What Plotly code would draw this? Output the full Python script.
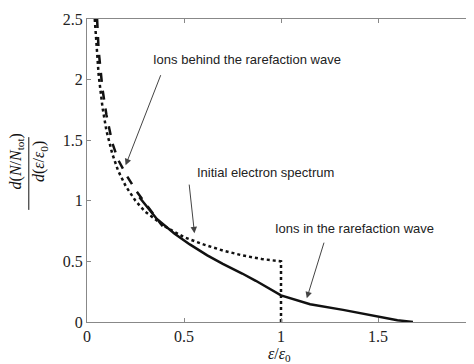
import plotly.graph_objects as go

# Initial electron spectrum (dotted)
elec_x = [0.04, 0.05, 0.06, 0.08, 0.10, 0.13, 0.16, 0.20, 0.25, 0.30, 0.40, 0.50, 0.60, 0.70, 0.80, 0.90, 1.00, 1.00]
elec_y = [2.50, 2.24, 2.04, 1.77, 1.58, 1.39, 1.25, 1.12, 1.00, 0.91, 0.79, 0.70, 0.64, 0.59, 0.55, 0.52, 0.50, 0.00]

# Ions behind the rarefaction wave (dashed)
behind_x = [0.052, 0.06, 0.08, 0.10, 0.13, 0.16, 0.20, 0.25, 0.30, 0.35, 0.39]
behind_y = [2.50, 2.24, 1.92, 1.71, 1.48, 1.34, 1.22, 1.09, 0.98, 0.87, 0.79]

# Ions in the rarefaction wave (solid)
wave_x = [0.27, 0.30, 0.36, 0.45, 0.53, 0.62, 0.70, 0.80, 0.87, 1.00, 1.15, 1.32, 1.49, 1.60, 1.68]
wave_y = [1.03, 0.97, 0.85, 0.73, 0.64, 0.55, 0.48, 0.40, 0.34, 0.22, 0.146, 0.10, 0.045, 0.015, 0.00]

x_ticks = [0, 0.5, 1, 1.5, 2]
x_tick_labels = ["0", "0.5", "1", "1.5", "2"]
y_ticks = [0, 0.5, 1, 1.5, 2, 2.5]
y_tick_labels = ["0", "0.5", "1", "1.5", "2", "2.5"]

fig = go.Figure()
fig.add_trace(go.Scatter(x=elec_x, y=elec_y, mode="lines",
                         line=dict(color="#111", width=2.5, dash="dot"), showlegend=False))
fig.add_trace(go.Scatter(x=behind_x, y=behind_y, mode="lines",
                         line=dict(color="#111", width=2.5, dash="dash"), showlegend=False))
fig.add_trace(go.Scatter(x=wave_x, y=wave_y, mode="lines",
                         line=dict(color="#111", width=2.5), showlegend=False))

axis_common = dict(showline=True, linecolor="#888", linewidth=1, mirror="ticks",
                   ticks="inside", ticklen=4, tickcolor="#888", showgrid=False, zeroline=False,
                   ticklabeloverflow="allow",
                   tickfont=dict(family="Liberation Serif", size=16, color="#222"))

fig.update_xaxes(range=[0, 2], tickvals=x_ticks, ticktext=x_tick_labels, **axis_common)
fig.update_yaxes(range=[0, 2.5], tickvals=y_ticks, ticktext=y_tick_labels, **axis_common)

ann_font = dict(family="Liberation Sans", size=13, color="#222")
texts = [
    ("Ions behind the rarefaction wave", 0.823, 2.163),
    ("Initial electron spectrum", 0.918, 1.23),
    ("Ions in the rarefaction wave", 1.378, 0.77),
]
for t, x, y in texts:
    fig.add_annotation(text=t, x=x, y=y, xref="x", yref="y", showarrow=False, font=ann_font)

arrows = [
    (0.199, 1.293, 0.383, 2.049),
    (0.554, 0.732, 0.526, 1.146),
    (1.133, 0.195, 1.224, 0.667),
]
for hx, hy, tx, ty in arrows:
    fig.add_annotation(text="", x=hx, y=hy, ax=tx, ay=ty, xref="x", yref="y",
                       axref="x", ayref="y", showarrow=True, arrowhead=2, arrowsize=1.3,
                       arrowwidth=1, arrowcolor="#444")

# Y-axis label as a fraction
lab_font = dict(family="Liberation Serif", size=16, color="#111")
fig.add_annotation(text="<i>d</i>(<i>N</i>/<i>N</i><sub>tot</sub>)", xref="paper", yref="paper",
                   x=-0.183, y=0.53, xanchor="center", yanchor="middle",
                   textangle=-90, showarrow=False, font=lab_font)
fig.add_annotation(text="<i>d</i>(<i>ε</i>/<i>ε</i><sub>0</sub>)", xref="paper", yref="paper",
                   x=-0.122, y=0.53, xanchor="center", yanchor="middle",
                   textangle=-90, showarrow=False, font=lab_font)
fig.add_shape(type="line", xref="paper", yref="paper", x0=-0.150, x1=-0.150,
              y0=0.37, y1=0.61, line=dict(color="#111", width=1))

fig.add_annotation(text="<i>ε</i>/<i>ε</i><sub>0</sub>", xref="paper", yref="paper",
                   x=0.497, y=-0.108, showarrow=False, xanchor="center", yanchor="middle",
                   font=dict(family="Liberation Serif", size=16, color="#111"))

fig.update_layout(width=474, height=364, margin=dict(l=79, r=3, t=6, b=50),
                  paper_bgcolor="white", plot_bgcolor="white")

fig.write_html("out.html")
